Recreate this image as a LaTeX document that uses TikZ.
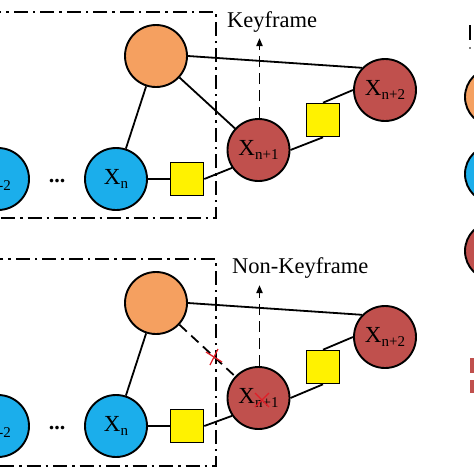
\documentclass[tikz,border=0pt]{standalone}
\usepackage{fontspec}
\setmainfont{Liberation Serif}
\usetikzlibrary{arrows.meta}
\definecolor{orangec}{RGB}{245,160,96}
\definecolor{bluec}{RGB}{27,174,235}
\definecolor{redc}{RGB}{192,80,77}
\definecolor{crossred}{RGB}{225,30,40}
\newcommand{\Xsub}[1]{X\raisebox{-4.5pt}{\fontsize{15}{15}\selectfont #1}}
\begin{document}
\begin{tikzpicture}[x=1pt,y=-1pt,
  circ/.style={circle,draw=black,line width=1.9pt,minimum size=62pt,inner sep=0pt,font=\fontsize{23}{23}\selectfont},
  orn/.style={circ,fill=orangec},
  blu/.style={circ,fill=bluec},
  rdn/.style={circ,fill=redc},
  factor/.style={draw=black,fill=yellow,line width=1.6pt,minimum size=33pt,inner sep=0pt},
  edge/.style={line width=1.8pt,draw=black},
  dedge/.style={edge,dash pattern=on 10pt off 6pt},
  boxline/.style={line width=1.7pt,dash pattern=on 14pt off 5pt on 2.5pt off 5pt},
  upar/.style={line width=1.8pt,dash pattern=on 11pt off 6pt,-{Triangle[length=8pt,width=6pt]}},
  lbl/.style={anchor=base west,inner sep=0pt,font=\fontsize{22.5}{22.5}\selectfont},
  dots/.style={anchor=base,inner sep=0pt,font=\fontsize{22}{22}\selectfont\bfseries},
  redx/.style={draw=crossred,line width=1.3pt}
]
\useasboundingbox (0,0) rectangle (474,474);

% ---------- top panel ----------
\draw[boxline] (-5,12) rectangle (216,218);
\node[orn] (o1) at (156,56) {};
\node[blu] (b1) at (-2,179) {};
\node[anchor=east,inner sep=0pt,font=\fontsize{23}{23}\selectfont] (b1t) at (11,181) {\Xsub{n-2}};
\node[blu] (n1) at (116,179) {\Xsub{n}};
\node[factor] (s1) at (187,179) {};
\node[rdn] (p1) at (258.5,150) {\Xsub{n+1}};
\node[rdn] (q1) at (385,90) {\Xsub{n+2}};
\node[factor] (t1) at (323,120) {};
\node[dots] (d1) at (57,182) {...};
\node[lbl] (k1) at (227,27) {Keyframe};
\coordinate (a1) at (259.5,38);

\draw[edge] (o1) -- (n1);
\draw[edge] (o1) -- (p1);
\draw[edge] (o1.east) -- (q1.136);
\draw[edge] (n1) -- (s1);
\draw[edge] (s1.east) -- (p1.214);
\draw[edge] (p1.east) -- (t1.south);
\draw[edge] (t1.north) -- (q1.west);
\draw[upar] (p1.north -| a1) -- (a1);

% ---------- bottom panel ----------
\draw[boxline] (-5,259) rectangle (216,466);
\node[orn] (o2) at (156,303) {};
\node[blu] (b2) at (-2,426) {};
\node[anchor=east,inner sep=0pt,font=\fontsize{23}{23}\selectfont] (b2t) at (11,428) {\Xsub{n-2}};
\node[blu] (n2) at (116,426) {\Xsub{n}};
\node[factor] (s2) at (187,426) {};
\node[rdn] (p2) at (258.5,398) {\Xsub{n+1}};
\node[rdn] (q2) at (385,337) {\Xsub{n+2}};
\node[factor] (t2) at (323,367) {};
\node[dots] (d2) at (57,429) {...};
\node[lbl] (k2) at (232,273) {Non-Keyframe};
\coordinate (a2) at (259.5,285);

\draw[edge] (o2) -- (n2);
\draw[dedge] (o2) -- (p2);
\draw[edge] (o2.east) -- (q2.136);
\draw[edge] (n2) -- (s2);
\draw[edge] (s2.east) -- (p2.214);
\draw[edge] (p2.east) -- (t2.south);
\draw[edge] (t2.north) -- (q2.west);
\draw[upar] (p2.north -| a2) -- (a2);

% red crosses
\coordinate (c1) at (214,357);
\coordinate (c2) at (262,400);
\draw[redx] ([shift={(-8,-5)}]c1) -- ([shift={(8,5)}]c1);
\draw[redx] ([shift={(-4,8)}]c1) -- ([shift={(4,-8)}]c1);
\draw[redx] ([shift={(-7,-7)}]c2) -- ([shift={(7,7)}]c2);
\draw[redx] ([shift={(-7,7)}]c2) -- ([shift={(7,-7)}]c2);

% ---------- legend (cropped at right edge) ----------
\draw[line width=1.5pt] (470,25) -- (470,40);
\fill (470,48) circle (0.9pt);
\node[circ,minimum size=58pt,fill=orangec] (lo) at (494,97) {};
\node[circ,minimum size=58pt,fill=bluec] (lb) at (494,174) {};
\node[circ,minimum size=58pt,fill=redc] (lr) at (494,251) {};
\fill[redc] (470,358) rectangle (480,373);
\fill[redc] (470,380) rectangle (480,393);
\end{tikzpicture}
\end{document}
